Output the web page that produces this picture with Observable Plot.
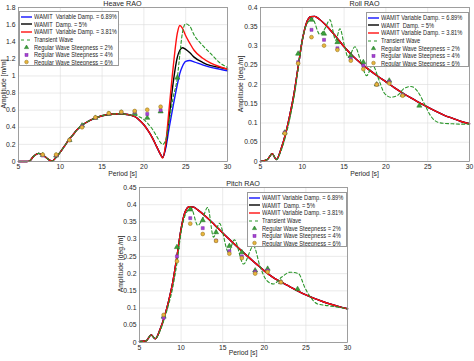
<!DOCTYPE html>
<html><head><meta charset="utf-8">
<script src="https://cdn.jsdelivr.net/npm/d3@7"></script>
<script src="https://cdn.jsdelivr.net/npm/@observablehq/plot@0.6"></script>
<style>
body{margin:0;background:#fff;font-family:"Liberation Sans",Arial,sans-serif;}
#root{position:relative;width:474px;height:361px;overflow:hidden;background:#fff}
.txt{position:absolute;white-space:nowrap;color:#262626;line-height:1;transform:translate(-50%,-50%)}
.title{font-size:7.2px}
.xlab{font-size:6.8px}
.ylab{font-size:6.8px;transform:translate(-50%,-50%) rotate(-90deg)}
.legend{position:absolute;background:#fff;border:0.8px solid #9a9a9a;box-sizing:border-box;padding-top:1px;overflow:hidden}
.legend .row{display:flex;align-items:center;height:7.6px;font-size:6.3px;white-space:pre;color:#262626}
.legend .row span{display:inline-block;transform:scaleX(0.9);transform-origin:0 50%}
.legend svg{flex:none;margin-right:1px}
</style></head>
<body><div id="root"></div>
<script>
// ---------- shared ----------
const xTicks = [5, 10, 15, 20, 25, 30];
const heaveYTicks = [0, 0.2, 0.4, 0.6, 0.8, 1, 1.2, 1.4, 1.6, 1.8];
const rollYTicks = [0, 0.05, 0.1, 0.15, 0.2, 0.25, 0.3, 0.35, 0.4];
const pitchYTicks = [0, 0.05, 0.1, 0.15, 0.2, 0.25, 0.3, 0.35, 0.4, 0.45];
const legendLabelsHeave = ["WAMIT  Variable Damp. = 6.89%", "WAMIT  Damp. = 5%", "WAMIT  Variable Damp. = 3.81%", "Transient Wave", "Regular Wave Steepness = 2%", "Regular Wave Steepness = 4%", "Regular Wave Steepness = 6%"];
const legendLabelsRP = ["WAMIT Variable Damp. = 6.89%", "WAMIT  Damp. = 5%", "WAMIT Variable Damp. = 3.81%", "Transient Wave", "Regular Wave Steepness = 2%", "Regular Wave Steepness = 4%", "Regular Wave Steepness = 6%"];
const markerPeriod = [7.9, 9.5, 11.1, 12.6, 14.2, 15.8, 17.3, 18.9, 20.4, 22.0, 24.0];

// ---------- heave ----------
const heavePeriod = [5, 6, 6.3, 6.8, 7.4, 8, 8.5, 9, 9.5, 10, 10.5, 11, 11.5, 12, 12.5, 13, 14, 15, 16, 17, 18, 18.5, 19, 19.5, 20, 20.5, 21, 21.5, 22, 22.25, 22.6, 23, 23.5, 24, 24.3, 24.6, 25, 25.5, 26, 27, 28, 29, 30];
const heaveWamit689 = [0, 0, 0.005, 0.06, 0.095, 0.07, 0.03, 0.003, 0.05, 0.11, 0.18, 0.25, 0.31, 0.37, 0.415, 0.45, 0.5, 0.535, 0.552, 0.558, 0.55, 0.54, 0.52, 0.48, 0.43, 0.36, 0.28, 0.18, 0.08, 0.05, 0.15, 0.38, 0.65, 0.9, 1.03, 1.11, 1.17, 1.18, 1.165, 1.13, 1.1, 1.08, 1.06];
const heaveWamit5 = [0, 0, 0.005, 0.06, 0.095, 0.07, 0.03, 0.003, 0.05, 0.11, 0.18, 0.25, 0.31, 0.37, 0.415, 0.45, 0.5, 0.535, 0.552, 0.558, 0.55, 0.54, 0.52, 0.48, 0.43, 0.36, 0.28, 0.18, 0.08, 0.045, 0.18, 0.5, 0.92, 1.22, 1.3, 1.33, 1.31, 1.27, 1.22, 1.16, 1.12, 1.1, 1.08];
const heaveWamit381 = [0, 0, 0.005, 0.06, 0.095, 0.07, 0.03, 0.003, 0.05, 0.11, 0.18, 0.25, 0.31, 0.37, 0.415, 0.45, 0.5, 0.535, 0.552, 0.558, 0.55, 0.54, 0.52, 0.48, 0.43, 0.36, 0.28, 0.18, 0.08, 0.04, 0.2, 0.6, 1.1, 1.5, 1.59, 1.56, 1.47, 1.38, 1.3, 1.21, 1.15, 1.11, 1.08];
const heaveTransient = [0, 0, 0.005, 0.06, 0.095, 0.07, 0.03, 0.003, 0.05, 0.11, 0.18, 0.25, 0.31, 0.37, 0.415, 0.45, 0.5, 0.535, 0.552, 0.558, 0.55, 0.54, 0.54, 0.52, 0.49, 0.44, 0.38, 0.3, 0.22, 0.2, 0.25, 0.45, 0.75, 0.98, 1.25, 1.5, 1.61, 1.58, 1.48, 1.36, 1.26, 1.16, 1.1];
const heaveSteep2 = [0.075, 0.07, 0.25, 0.42, 0.51, 0.555, 0.57, 0.565, 0.51, 0.585, 0.98];
const heaveSteep4 = [0.07, 0.07, 0.25, 0.41, 0.51, 0.56, 0.575, 0.58, 0.555, 0.6, null];
const heaveSteep6 = [0.08, 0.08, 0.25, 0.4, 0.515, 0.565, 0.58, 0.59, 0.605, 0.64, null];

// ---------- roll ----------
const rollPeriod = [5, 5.8, 6.4, 6.9, 7.5, 8, 8.5, 9, 9.5, 10, 10.5, 11, 11.5, 12, 13, 14, 15, 16, 17, 18, 19, 20, 21, 22, 23, 24, 25, 26, 27, 28, 29, 30];
const rollWamit689 = [0, 0.005, 0.02, 0.005, 0.035, 0.072, 0.12, 0.175, 0.245, 0.315, 0.36, 0.376, 0.377, 0.37, 0.35, 0.325, 0.298, 0.275, 0.255, 0.238, 0.222, 0.207, 0.192, 0.178, 0.165, 0.153, 0.141, 0.13, 0.12, 0.112, 0.104, 0.098];
const rollWamit5 = [0, 0.005, 0.02, 0.005, 0.035, 0.072, 0.12, 0.175, 0.245, 0.315, 0.36, 0.376, 0.377, 0.37, 0.35, 0.325, 0.298, 0.275, 0.255, 0.238, 0.222, 0.207, 0.192, 0.178, 0.165, 0.153, 0.141, 0.13, 0.12, 0.112, 0.104, 0.098];
const rollWamit381 = [0, 0.005, 0.02, 0.005, 0.035, 0.072, 0.12, 0.175, 0.245, 0.315, 0.36, 0.376, 0.377, 0.37, 0.35, 0.325, 0.298, 0.275, 0.255, 0.238, 0.222, 0.207, 0.192, 0.178, 0.165, 0.153, 0.141, 0.13, 0.12, 0.112, 0.104, 0.098];
const rollTransientPeriod = [5, 5.8, 6.4, 6.9, 7.5, 8, 8.5, 9, 9.5, 10, 10.5, 11.2, 12.1, 12.7, 13.3, 14, 14.5, 15, 15.5, 16.3, 17, 17.7, 18.4, 19.2, 19.8, 20.6, 21.4, 22.2, 23, 23.8, 24.6, 25.4, 26.2, 27, 28, 29, 30];
const rollTransient = [0, 0.005, 0.02, 0.005, 0.03, 0.065, 0.11, 0.165, 0.24, 0.315, 0.355, 0.371, 0.33, 0.345, 0.368, 0.315, 0.345, 0.305, 0.27, 0.298, 0.26, 0.223, 0.25, 0.21, 0.178, 0.167, 0.172, 0.19, 0.195, 0.182, 0.15, 0.117, 0.102, 0.099, 0.098, 0.097, 0.097];
const rollSteep2 = [0.075, 0.28, 0.368, 0.332, 0.31, 0.275, 0.258, 0.2, 0.21, 0.173, 0.145];
const rollSteep4 = [0.075, 0.258, 0.342, 0.316, 0.294, 0.267, 0.249, 0.2, 0.207, 0.173, null];
const rollSteep6 = [0.073, 0.255, 0.323, 0.301, 0.29, 0.262, 0.24, 0.2, 0.203, 0.171, null];

// ---------- pitch ----------
const pitchPeriod = [5, 5.8, 6.4, 6.9, 7.5, 8, 8.5, 9, 9.5, 10, 10.5, 11, 11.5, 12, 13, 14, 15, 16, 17, 18, 19, 20, 21, 22, 23, 24, 25, 26, 27, 28, 29, 30];
const pitchWamit689 = [0.003, 0.005, 0.022, 0.011, 0.04, 0.075, 0.12, 0.175, 0.25, 0.33, 0.38, 0.394, 0.393, 0.385, 0.365, 0.342, 0.318, 0.295, 0.272, 0.25, 0.229, 0.208, 0.19, 0.176, 0.163, 0.15, 0.138, 0.128, 0.119, 0.111, 0.104, 0.098];
const pitchWamit5 = [0.003, 0.005, 0.022, 0.011, 0.04, 0.075, 0.12, 0.175, 0.25, 0.33, 0.38, 0.394, 0.393, 0.385, 0.365, 0.342, 0.318, 0.295, 0.272, 0.25, 0.229, 0.208, 0.19, 0.176, 0.163, 0.15, 0.138, 0.128, 0.119, 0.111, 0.104, 0.098];
const pitchWamit381 = [0.003, 0.005, 0.022, 0.011, 0.04, 0.075, 0.12, 0.175, 0.25, 0.33, 0.38, 0.394, 0.393, 0.385, 0.365, 0.342, 0.318, 0.295, 0.272, 0.25, 0.229, 0.208, 0.19, 0.176, 0.163, 0.15, 0.138, 0.128, 0.119, 0.111, 0.104, 0.098];
const pitchTransientPeriod = [5, 5.8, 6.4, 6.9, 7.5, 8, 8.5, 9, 9.5, 10, 10.5, 11.2, 12, 12.5, 13.2, 13.9, 14.6, 15.7, 16.4, 17.5, 18.7, 19.5, 20.3, 21.1, 22.1, 23.1, 24.1, 24.9, 25.6, 26.4, 27.6, 29, 30];
const pitchTransient = [0.003, 0.005, 0.022, 0.011, 0.035, 0.07, 0.11, 0.16, 0.23, 0.32, 0.37, 0.39, 0.34, 0.355, 0.392, 0.306, 0.346, 0.262, 0.298, 0.228, 0.28, 0.22, 0.18, 0.17, 0.19, 0.204, 0.2, 0.158, 0.13, 0.112, 0.107, 0.102, 0.098];
const pitchSteep2 = [0.075, 0.277, 0.386, 0.355, 0.32, 0.28, 0.262, 0.209, 0.214, 0.175, 0.155];
const pitchSteep4 = [0.072, 0.25, 0.361, 0.332, 0.296, 0.265, 0.25, 0.205, 0.209, 0.175, null];
const pitchSteep6 = [0.08, 0.236, 0.345, 0.315, 0.295, 0.258, 0.245, 0.2, 0.205, 0.175, null];

// ---------- styles ----------
const C = {blue: "#1414ff", black: "#000000", red: "#ff1010", green: "#2a962a",
  triFill: "#3aa23a", triStroke: "#1f6e1f", sqFill: "#a63fd6", sqStroke: "#7a2aa0",
  ciFill: "#e8b53c", ciStroke: "#9a7a28"};
const fmt = d => String(+(+d).toFixed(3));
const rows = (xs, ys) => xs.map((x, i) => ({x, y: ys[i]})).filter(d => d.y != null);
const root = document.getElementById("root");

function panel(o) {
  const lines = [
    {xs: o.period, ys: o.w689, color: C.blue},
    {xs: o.period, ys: o.w5, color: C.black},
    {xs: o.period, ys: o.w381, color: C.red}
  ];
  const marks = [
    Plot.gridX(xTicks, {stroke: "#dcdcdc", strokeOpacity: 1, strokeWidth: 0.6}),
    Plot.gridY(o.yTicks, {stroke: "#dcdcdc", strokeOpacity: 1, strokeWidth: 0.6}),
    Plot.axisX(xTicks, {tickSize: 0, tickPadding: 3, tickFormat: fmt, label: null}),
    Plot.axisY(o.yTicks, {tickSize: 0, tickPadding: 3, tickFormat: fmt, label: null}),
    ...lines.map(l => Plot.line(rows(l.xs, l.ys), {x: "x", y: "y", stroke: l.color, strokeWidth: 1.4, curve: "monotone-x"})),
    Plot.line(rows(o.tPeriod, o.trans), {x: "x", y: "y", stroke: C.green, strokeWidth: 1.1, strokeDasharray: "3,2.4", curve: "monotone-x"}),
    Plot.dot(rows(markerPeriod, o.s2), {x: "x", y: "y", symbol: "triangle", r: 1.9, fill: C.triFill, stroke: C.triStroke, strokeWidth: 0.5}),
    Plot.dot(rows(markerPeriod, o.s4), {x: "x", y: "y", symbol: "square", r: 1.7, fill: C.sqFill, stroke: C.sqStroke, strokeWidth: 0.5}),
    Plot.dot(rows(markerPeriod, o.s6), {x: "x", y: "y", symbol: "circle", r: 1.9, fill: C.ciFill, stroke: C.ciStroke, strokeWidth: 0.6}),
    Plot.frame({stroke: "#8c8c8c", strokeWidth: 0.8})
  ];
  const svg = Plot.plot({
    width: o.width, height: o.height,
    marginLeft: o.ml, marginRight: o.mr, marginTop: o.mt, marginBottom: o.mb,
    x: {domain: [5, 30], nice: false},
    y: {domain: o.yDomain, nice: false},
    style: {fontFamily: '"Liberation Sans", Arial, sans-serif', fontSize: "6.8px", color: "#262626", background: "transparent", overflow: "visible"},
    marks
  });
  svg.style.position = "absolute";
  svg.style.left = o.left + "px";
  svg.style.top = o.top + "px";
  root.append(svg);
}

function text(cls, s, x, y) {
  const d = document.createElement("div");
  d.className = "txt " + cls;
  d.textContent = s;
  d.style.left = x + "px";
  d.style.top = y + "px";
  root.append(d);
}

function legend(labels, left, top, width, height) {
  const box = document.createElement("div");
  box.className = "legend";
  Object.assign(box.style, {left: left + "px", top: top + "px", width: width + "px", height: height + "px"});
  const swatches = [
    `<line x1="1" x2="12" y1="4" y2="4" stroke="${C.blue}" stroke-width="1.4"/>`,
    `<line x1="1" x2="12" y1="4" y2="4" stroke="${C.black}" stroke-width="1.4"/>`,
    `<line x1="1" x2="12" y1="4" y2="4" stroke="${C.red}" stroke-width="1.4"/>`,
    `<line x1="1" x2="12" y1="4" y2="4" stroke="${C.green}" stroke-width="1.1" stroke-dasharray="3,3"/>`,
    `<path d="M6.5,2 L8.6,5.6 L4.4,5.6 Z" fill="${C.triFill}" stroke="${C.triStroke}" stroke-width="0.5"/>`,
    `<rect x="5" y="2.5" width="3" height="3" fill="${C.sqFill}" stroke="${C.sqStroke}" stroke-width="0.5"/>`,
    `<circle cx="6.5" cy="4" r="1.8" fill="${C.ciFill}" stroke="${C.ciStroke}" stroke-width="0.6"/>`
  ];
  labels.forEach((lab, i) => {
    const r = document.createElement("div");
    r.className = "row";
    r.innerHTML = `<svg width="13" height="8" viewBox="0 0 13 8">${swatches[i]}</svg><span>${lab}</span>`;
    box.append(r);
  });
  root.append(box);
}

// Heave
panel({left: 0, top: 0, width: 237, height: 180, ml: 18, mr: 10, mt: 7, mb: 19,
  yDomain: [0, 1.8], yTicks: heaveYTicks,
  period: heavePeriod, w689: heaveWamit689, w5: heaveWamit5, w381: heaveWamit381,
  tPeriod: heavePeriod, trans: heaveTransient, s2: heaveSteep2, s4: heaveSteep4, s6: heaveSteep6});
// Roll
panel({left: 237, top: 0, width: 237, height: 180, ml: 23, mr: 5, mt: 7, mb: 19,
  yDomain: [0, 0.4], yTicks: rollYTicks,
  period: rollPeriod, w689: rollWamit689, w5: rollWamit5, w381: rollWamit381,
  tPeriod: rollTransientPeriod, trans: rollTransient, s2: rollSteep2, s4: rollSteep4, s6: rollSteep6});
// Pitch
panel({left: 110, top: 180, width: 250, height: 181, ml: 29, mr: 13, mt: 7, mb: 19,
  yDomain: [0, 0.45], yTicks: pitchYTicks,
  period: pitchPeriod, w689: pitchWamit689, w5: pitchWamit5, w381: pitchWamit381,
  tPeriod: pitchTransientPeriod, trans: pitchTransient, s2: pitchSteep2, s4: pitchSteep4, s6: pitchSteep6});

text("title", "Heave RAO", 122.5, 3.5);
text("title", "Roll RAO", 364.5, 3.5);
text("title", "Pitch RAO", 243, 184);
text("xlab", "Period [s]", 122.5, 174);
text("xlab", "Period [s]", 364.5, 174);
text("xlab", "Period [s]", 243, 353);
text("ylab", "Amplitude [m/m]", 4, 84);
text("ylab", "Amplitude [deg./m]", 241, 84);
text("ylab", "Amplitude [deg./m]", 121, 264);

legend(legendLabelsHeave, 19, 11, 100, 55);
legend(legendLabelsRP, 366, 12, 103, 55);
legend(legendLabelsRP, 247, 192, 100, 55);
</script></body></html>
